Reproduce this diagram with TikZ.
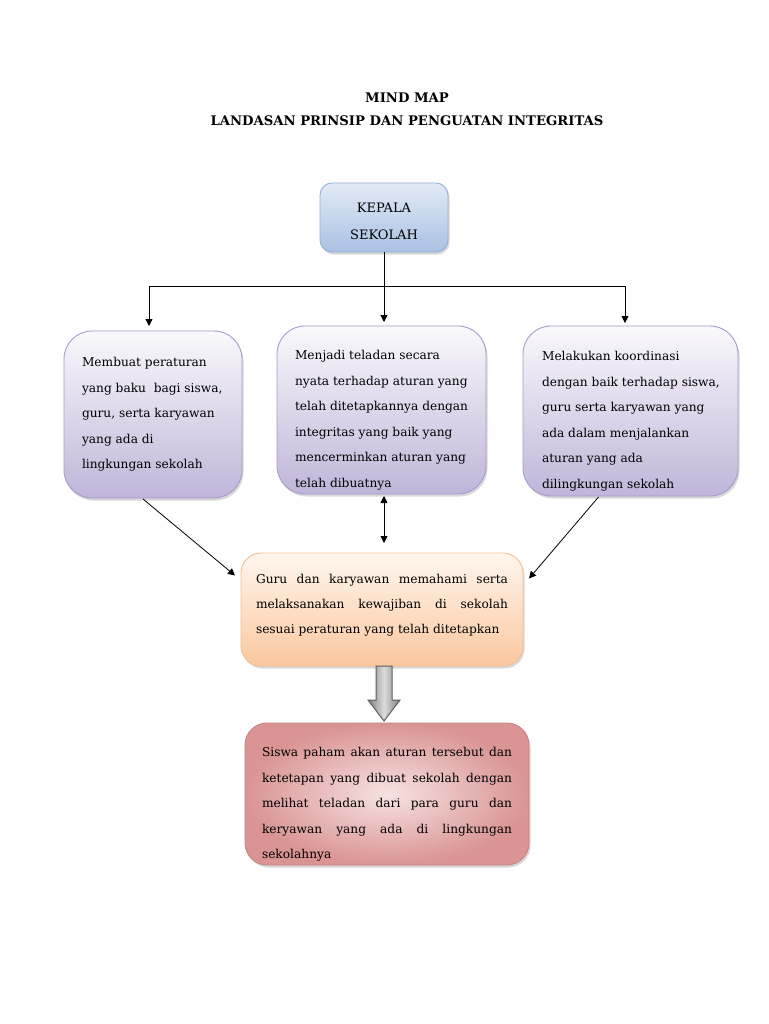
\documentclass[tikz,border=0pt]{standalone}
\usepackage{fontspec}
\setmainfont{DejaVu Serif}
\usetikzlibrary{arrows.meta,shadows,calc}
\definecolor{kTop}{HTML}{E2EBF7}
\definecolor{kBot}{HTML}{A9C1E2}
\definecolor{kBrd}{HTML}{93AED6}
\definecolor{pTop}{HTML}{FAF9FC}
\definecolor{pBot}{HTML}{C0B5D9}
\definecolor{pBrd}{HTML}{A89BCA}
\definecolor{oTop}{HTML}{FFF6EF}
\definecolor{oBot}{HTML}{FBC89E}
\definecolor{oBrd}{HTML}{F6BE90}
\definecolor{rIn}{HTML}{F7E2E2}
\definecolor{rOut}{HTML}{D99493}
\definecolor{rBrd}{HTML}{C98584}
\definecolor{aMid}{HTML}{DCDCDC}
\definecolor{aSide}{HTML}{7E7E7E}
\definecolor{aBrd}{HTML}{5E5E5E}
\begin{document}
\begin{tikzpicture}[x=1pt,y=-1pt,
  every node/.style={inner sep=0pt,outer sep=0pt},
  txt/.style={font=\fontsize{12.2}{25.5}\selectfont,align=left,anchor=north west},
  rbox/.style={draw,line width=0.9pt,rounded corners=#1,
    drop shadow={shadow xshift=1.5pt,shadow yshift=-2.5pt,opacity=0.3}},
  kbox/.style={rbox=12pt,draw=kBrd,top color=kTop,bottom color=kBot},
  pbox/.style={rbox=28pt,draw=pBrd,top color=pTop,bottom color=pBot},
  obox/.style={rbox=20pt,draw=oBrd,top color=oTop,bottom color=oBot},
  bbox/.style={rbox=22pt,draw=rBrd,inner color=rIn,outer color=rOut},
  ln/.style={line width=0.8pt,black},
  arr/.style={ln,-{Triangle[length=7pt,width=7pt]}},
  darr/.style={ln,{Triangle[length=7pt,width=7pt]}-{Triangle[length=7pt,width=7pt]}}
]
\fill[white] (0,0) rectangle (768,1024);
\useasboundingbox (0,0) rectangle (768,1024);

% title
\node[font=\fontsize{13.2}{23}\selectfont\bfseries,align=center,anchor=north] (T) at (407,92.5)
  {MIND MAP\\LANDASAN PRINSIP DAN PENGUATAN INTEGRITAS};

% boxes
\node[kbox,minimum width=128pt,minimum height=69pt] (K) at (384,217.5) {};
\node[pbox,minimum width=178pt,minimum height=167pt] (L) at (153,414.5) {};
\node[pbox,minimum width=209pt,minimum height=168pt] (M) at (381.5,410) {};
\node[pbox,minimum width=215pt,minimum height=170pt] (R) at (630.5,411) {};
\node[obox,minimum width=282pt,minimum height=113pt] (O) at (382,609.5) {};
\node[bbox,minimum width=284pt,minimum height=142pt] (B) at (387,794) {};

% texts
\node[font=\fontsize{13}{27}\selectfont,align=center,anchor=north] (Kt) at (384,203.3) {KEPALA\\SEKOLAH};
\node[txt] (Lt) at (82,357.7) {Membuat peraturan\\yang baku\ \ bagi siswa,\\guru, serta karyawan\\yang ada di\\lingkungan sekolah};
\node[txt] (Mt) at (295,350.7) {Menjadi teladan secara\\nyata terhadap aturan yang\\telah ditetapkannya dengan\\integritas yang baik yang\\mencerminkan aturan yang\\telah dibuatnya};
\node[txt] (Rt) at (542,351.7) {Melakukan koordinasi\\dengan baik terhadap siswa,\\guru serta karyawan yang\\ada dalam menjalankan\\aturan yang ada\\dilingkungan sekolah};
\node[txt,font=\fontsize{12.2}{25}\selectfont] (Ot) at (256,574.7) {\makebox[252pt][s]{Guru dan karyawan memahami serta}\\\makebox[252pt][s]{melaksanakan kewajiban di sekolah}\\sesuai peraturan yang telah ditetapkan};
\node[txt] (Bt) at (262,747.7) {\makebox[250pt][s]{Siswa paham akan aturan tersebut dan}\\\makebox[250pt][s]{ketetapan yang dibuat sekolah dengan}\\\makebox[250pt][s]{melihat teladan dari para guru dan}\\\makebox[250pt][s]{keryawan yang ada di lingkungan}\\sekolahnya};

% connectors
\coordinate (jl) at (149,286);
\coordinate (jr) at (625,286);
\draw[arr,shorten >=4pt] (K.south) -- (K.south |- M.north);
\draw[ln] (jl) -- (jr);
\draw[arr,shorten >=5pt] (jl) -- (jl |- L.north);
\draw[arr,shorten >=3pt] (jr) -- (jr |- R.north);
\draw[darr] ($(K.south |- M.south)+(0,2)$) -- ($(K.south |- O.north)+(0,-10)$);
\draw[arr] ($(L.south)+(-10,1)$) -- ($(O.west)+(-6,-34)$);
\draw[arr] ($(R.south)+(-32,1)$) -- ($(O.east)+(6,-31)$);

% block arrow
\draw[draw=aBrd,line width=1pt,left color=aSide,right color=aSide,middle color=aMid]
  ($(O.south)+(-6,0)$) -- ($(O.south)+(10,0)$) -- ($(O.south)+(10,34)$) -- ($(O.south)+(18,34)$)
  -- ($(O.south)+(2,55)$) -- ($(O.south)+(-14,34)$) -- ($(O.south)+(-6,34)$) -- cycle;
\end{tikzpicture}
\end{document}
